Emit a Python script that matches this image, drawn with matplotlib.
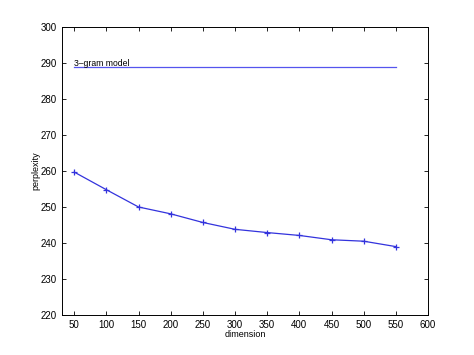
import matplotlib
matplotlib.use('Agg')
import matplotlib.pyplot as plt

dims = [50, 100, 150, 200, 250, 300, 350, 400, 450, 500, 550]
perplexity = [259.7, 254.8, 250.0, 248.1, 245.7, 243.8, 242.9, 242.1, 240.9, 240.5, 239.0]
trigram = 288.8

plt.rcParams['font.family'] = ['Liberation Sans', 'DejaVu Sans']
plt.rcParams['font.size'] = 7

fig = plt.figure(figsize=(4.74, 3.55), dpi=100)
ax = fig.add_axes([62 / 474, 1 - 315 / 355, 366 / 474, 288 / 355])

ax.plot(dims, perplexity, color='#3333dd', lw=0.9, marker='+', ms=5, mew=0.9)
ax.plot([dims[0], dims[-1]], [trigram, trigram], color='#5555ee', lw=0.9)
ax.text(dims[0], trigram + 0.45, '3\u2013gram model', fontsize=6.2, va='baseline', ha='left')

ax.set_xlim(31, 600)
ax.set_ylim(220, 300)
ax.set_xticks(range(50, 601, 50))
ax.set_yticks(range(220, 301, 10))
ax.tick_params(direction='in', top=True, right=True, length=3, width=0.6, labelsize=7)
for s in ax.spines.values():
    s.set_linewidth(0.7)
ax.set_xlabel('dimension', fontsize=6.5, labelpad=0)
ax.set_ylabel('perplexity', fontsize=6.5, labelpad=0)

fig.savefig('out.png', dpi=100)
